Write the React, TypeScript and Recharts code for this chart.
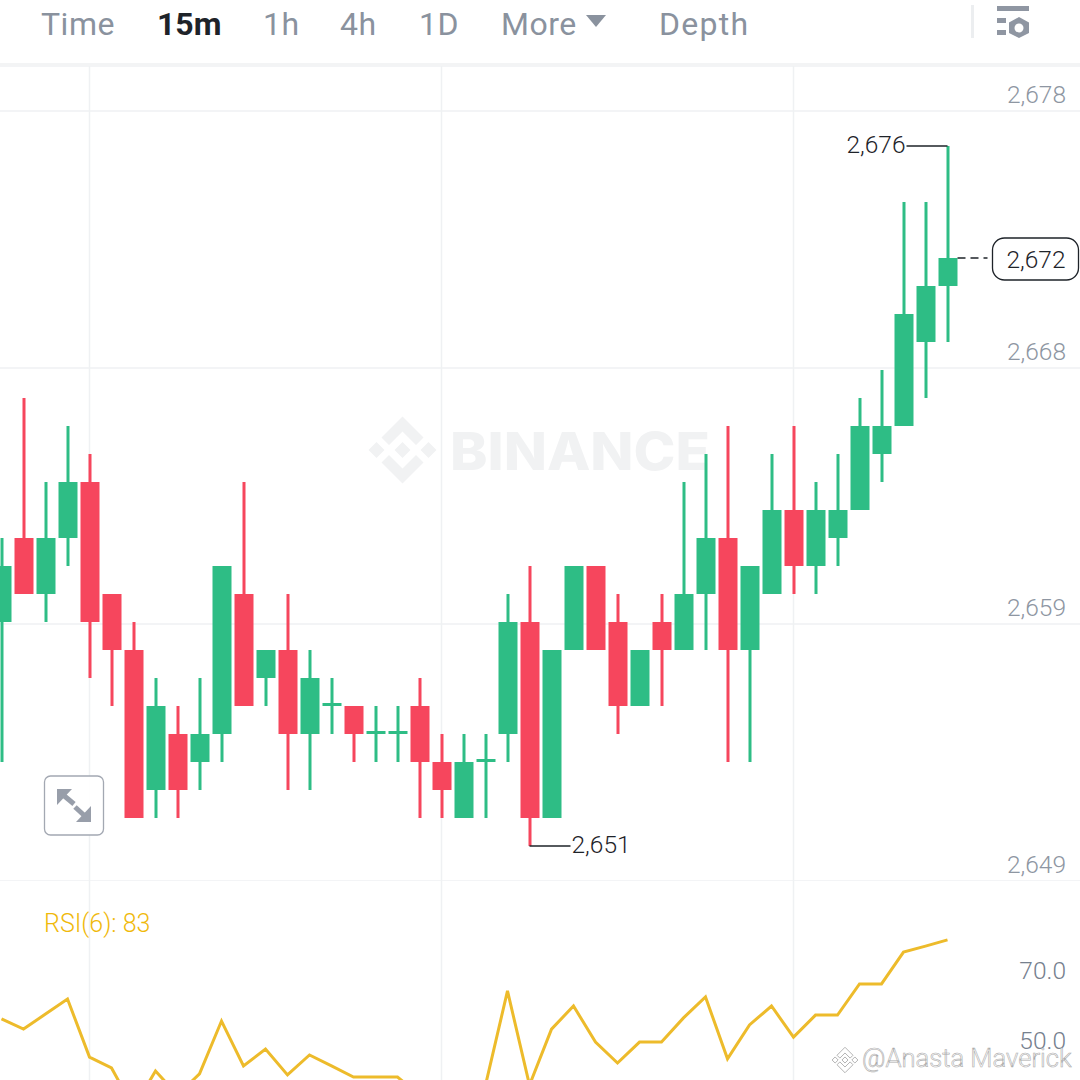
import { Bar, CartesianGrid, ComposedChart, Line, ReferenceDot, XAxis, YAxis } from 'recharts';

// one entry per 15m candle, left to right
const opens = [2659, 2662, 2660, 2662, 2664, 2660, 2658, 2653, 2655, 2654, 2655, 2660, 2657, 2658, 2655, 2656, 2656, 2655, 2655, 2656, 2654, 2652, 2654, 2655, 2659, 2652, 2658, 2661, 2659, 2656, 2659, 2658, 2660, 2662, 2658, 2660, 2663, 2661, 2662, 2663, 2665, 2666, 2669, 2671];
const closes = [2661, 2660, 2662, 2664, 2659, 2658, 2652, 2656, 2653, 2655, 2661, 2656, 2658, 2655, 2657, 2656, 2655, 2655, 2655, 2654, 2653, 2654, 2654, 2659, 2652, 2658, 2661, 2658, 2656, 2658, 2658, 2660, 2662, 2658, 2661, 2663, 2661, 2663, 2663, 2666, 2666, 2670, 2671, 2672];
const highs = [2662, 2667, 2664, 2666, 2665, 2660, 2659, 2657, 2656, 2657, 2661, 2664, 2658, 2660, 2658, 2657, 2656, 2656, 2656, 2657, 2655, 2655, 2655, 2660, 2661, 2658, 2661, 2661, 2660, 2658, 2660, 2664, 2665, 2666, 2661, 2665, 2666, 2664, 2665, 2667, 2668, 2674, 2674, 2676];
const lows = [2654, 2660, 2659, 2661, 2657, 2656, 2652, 2652, 2652, 2653, 2654, 2656, 2656, 2653, 2653, 2655, 2654, 2654, 2654, 2652, 2652, 2652, 2652, 2654, 2651, 2652, 2658, 2658, 2655, 2656, 2656, 2658, 2658, 2654, 2654, 2660, 2660, 2660, 2661, 2663, 2664, 2666, 2667, 2669];
const rsiValues = [60.3, 57.4, 61.7, 66, 49.4, 46.3, 34.9, 45.4, 38.6, 44.6, 59.7, 46.9, 51.7, 44.3, 50, 46.9, 43.7, 43.7, 43.7, 38.6, 34.3, 28.6, 41.4, 68.3, 41.4, 57.4, 64, 53.7, 47.7, 53.7, 53.7, 60.6, 66.6, 48.9, 58.6, 64, 55.1, 61.4, 61.4, 70.3, 70.3, 79.4, 81.1, 82.9];

const priceTicks = [2677.25, 2668.07, 2658.93, 2649.75];
const priceTickLabels = ['2,678', '2,668', '2,659', '2,649'];
const rsiTicks = [70, 50];
const gridSlots = [4, 20, 36];
const emptySlots = 6;

const GREEN = '#2EBD85';
const RED = '#F6465D';
const INK = '#1E2329';
const GRID = '#EFF1F3';
const FONT = 'Roboto, sans-serif';

const rows = Array.from({ length: opens.length + emptySlots }, (_, i) => ({
  slot: i,
  open: opens[i],
  close: closes[i],
  wick: highs[i] === undefined ? null : [lows[i], highs[i]],
  body: opens[i] === undefined ? null : [Math.min(opens[i], closes[i]), Math.max(opens[i], closes[i])],
  rsi: rsiValues[i] === undefined ? null : rsiValues[i],
}));

const candleColor = (row: any) => (row.close >= row.open ? GREEN : RED);

function WickShape({ x, y, width, height, payload }: any) {
  return <rect x={x} y={y} width={width} height={height} fill={candleColor(payload)} />;
}

function BodyShape({ x, y, width, height, payload }: any) {
  // a doji has no body height, it still shows as a flat bar
  const flat = height < 3;
  return <rect x={x} y={flat ? y - 3 : y} width={width} height={flat ? 3 : height} fill={candleColor(payload)} />;
}

function PriceTick({ y, payload }: any) {
  return (
    <text x={1066} y={y - 8} textAnchor="end" fontFamily={FONT} fontWeight={300} fontSize={24.5} fill="#8E96A2">
      {priceTickLabels[priceTicks.indexOf(payload.value)]}
    </text>
  );
}

function RsiTick({ y, payload }: any) {
  return (
    <text x={1066} y={y - 6} textAnchor="end" fontFamily={FONT} fontWeight={300} fontSize={24.5} fill="#76808E">
      {payload.value.toFixed(1)}
    </text>
  );
}

function HighMark({ cx, cy }: any) {
  return (
    <g>
      <line x1={cx - 41} x2={cx} y1={cy} y2={cy} stroke={INK} strokeWidth={1.5} />
      <text x={cx - 42} y={cy + 7} textAnchor="end" fontFamily={FONT} fontWeight={300} fontSize={24.5} fill={INK}>2,676</text>
    </g>
  );
}

function LowMark({ cx, cy }: any) {
  return (
    <g>
      <line x1={cx} x2={cx + 41} y1={cy} y2={cy} stroke={INK} strokeWidth={1.5} />
      <text x={cx + 42} y={cy + 7} fontFamily={FONT} fontWeight={300} fontSize={24.5} fill={INK}>2,651</text>
    </g>
  );
}

function LastMark({ cx, cy }: any) {
  return (
    <g>
      <line x1={cx + 10} x2={cx + 40} y1={cy} y2={cy} stroke={INK} strokeWidth={1.5} strokeDasharray="8 5" />
      <rect x={cx + 45} y={cy - 20} width={86} height={42} rx={12} fill="#fff" stroke={INK} strokeWidth={1.3} />
      <text x={cx + 118} y={cy + 10} textAnchor="end" fontFamily={FONT} fontWeight={300} fontSize={24.5} fill={INK}>2,672</text>
    </g>
  );
}

// Binance logo, drawn around its centre
function LogoMark({ cx, cy, scale, fill, stroke }: any) {
  return (
    <g transform={`translate(${cx} ${cy}) scale(${scale})`} fill={fill} stroke={stroke} strokeWidth={stroke ? 1 / scale : 0}>
      <polygon points="0,-33.5 21,-12.5 13.5,-5 0,-18.5 -13.5,-5 -21,-12.5" />
      <polygon points="0,33.5 21,12.5 13.5,5 0,18.5 -13.5,5 -21,12.5" />
      <polygon points="0,-8 8,0 0,8 -8,0" />
      <polygon points="-26,-8 -18,0 -26,8 -34,0" />
      <polygon points="26,-8 34,0 26,8 18,0" />
    </g>
  );
}

const headerItems = [
  { label: 'Time', x: 41, spacing: 0.5 },
  { label: '15m', x: 157, spacing: 0, active: true },
  { label: '1h', x: 263, spacing: 0.5 },
  { label: '4h', x: 340, spacing: 0.5 },
  { label: '1D', x: 419, spacing: 0.5 },
  { label: 'More', x: 501, spacing: 0.5 },
  { label: 'Depth', x: 659, spacing: 1.3 },
];

function BackLayer() {
  return (
    <svg width={1080} height={1080} style={{ position: 'absolute', left: 0, top: 0 }}>
      <LogoMark cx={402.5} cy={450} scale={1} fill="#F1F2F3" />
      <text x={450} y={470} fontFamily="Inter, sans-serif" fontWeight={800} fontSize={52} fill="#F1F2F3" textLength={260} lengthAdjust="spacingAndGlyphs">BINANCE</text>
    </svg>
  );
}

function TopLayer() {
  return (
    <svg width={1080} height={1080} style={{ position: 'absolute', left: 0, top: 0 }}>
      {headerItems.map((item) => (
        <text
          key={item.label}
          x={item.x}
          y={35}
          fontFamily={FONT}
          fontSize={32}
          fontWeight={item.active ? 700 : 400}
          letterSpacing={item.spacing}
          fill={item.active ? INK : '#8A929E'}
        >
          {item.label}
        </text>
      ))}
      <polygon points="586,15 606,15 596,27" fill="#8A929E" />
      <rect x={971} y={5} width={3} height={33} fill="#ECEEF0" />
      <rect x={997} y={6} width={32} height={5} fill="#8F96A2" />
      <rect x={997} y={18} width={9} height={5} fill="#8F96A2" />
      <rect x={997} y={30} width={9} height={5} fill="#8F96A2" />
      <polygon points="1019,17 1029,22.5 1029,33 1019,38 1009,33 1009,22.5" fill="#8F96A2" />
      <circle cx={1019} cy={28} r={4.5} fill="#fff" />
      <rect x={0} y={63} width={1080} height={3} fill="#F3F4F5" />

      <text x={44} y={932} fontFamily={FONT} fontWeight={300} fontSize={25} fill="#F0B90B">RSI(6): 83</text>

      <rect x={44.5} y={776} width={59} height={59} rx={6} fill="#fff" fillOpacity={0.9} stroke="#A3A8B2" strokeWidth={1.3} />
      <polygon points="57,789 72,789 57,805" fill="#989EAA" />
      <line x1={62} y1={794} x2={74} y2={804} stroke="#989EAA" strokeWidth={5} />
      <polygon points="91,822 76,822 91,806" fill="#989EAA" />
      <line x1={86} y1={817} x2={75} y2={807} stroke="#989EAA" strokeWidth={5} />

      <LogoMark cx={845} cy={1060} scale={0.38} fill="#fff" stroke="#B4B4B4" />
      <text x={862} y={1067} fontFamily={FONT} fontWeight={300} fontSize={25.6} fill="#fff" stroke="#ABABAB" strokeWidth={0.6}>@Anasta Maverick</text>
    </svg>
  );
}

export default function App() {
  return (
    <div style={{ position: 'absolute', left: 0, top: 0, width: 1080, height: 1080, overflow: 'hidden', background: '#fff' }}>
      <BackLayer />
      <div style={{ position: 'absolute', left: 0, top: 0 }}>
        <ComposedChart width={1080} height={881} data={rows} margin={{ top: 66, right: -11.5, bottom: 0, left: -9.5 }} barGap={0}>
          <XAxis xAxisId="wick" dataKey="slot" type="category" hide />
          <XAxis xAxisId="body" dataKey="slot" type="category" hide />
          <YAxis
            orientation="right"
            width={1}
            domain={[2649.75, 2678.857]}
            ticks={priceTicks}
            tick={PriceTick}
            axisLine={false}
            tickLine={false}
            interval={0}
          />
          <CartesianGrid xAxisId="wick" stroke={GRID} strokeWidth={1.5} verticalValues={gridSlots} />
          <Bar xAxisId="wick" dataKey="wick" barSize={3} shape={WickShape} isAnimationActive={false} />
          <Bar xAxisId="body" dataKey="body" barSize={19} shape={BodyShape} isAnimationActive={false} />
          <ReferenceDot xAxisId="wick" x={43} y={2676} r={0} shape={HighMark} />
          <ReferenceDot xAxisId="wick" x={24} y={2651} r={0} shape={LowMark} />
          <ReferenceDot xAxisId="wick" x={43} y={2672} r={0} shape={LastMark} />
        </ComposedChart>
      </div>
      <div style={{ position: 'absolute', left: 0, top: 881 }}>
        <ComposedChart width={1080} height={300} data={rows} margin={{ top: 0, right: -11.5, bottom: 0, left: -9.5 }}>
          <XAxis dataKey="slot" type="category" scale="band" hide />
          <YAxis
            orientation="right"
            width={1}
            domain={[14, 99.71]}
            ticks={rsiTicks}
            tick={RsiTick}
            axisLine={false}
            tickLine={false}
            interval={0}
          />
          <CartesianGrid stroke={GRID} strokeWidth={1.5} horizontal={false} verticalValues={gridSlots} />
          <Line dataKey="rsi" type="linear" stroke="#EDBB2B" strokeWidth={3} dot={false} connectNulls={false} isAnimationActive={false} />
        </ComposedChart>
      </div>
      <TopLayer />
    </div>
  );
}
